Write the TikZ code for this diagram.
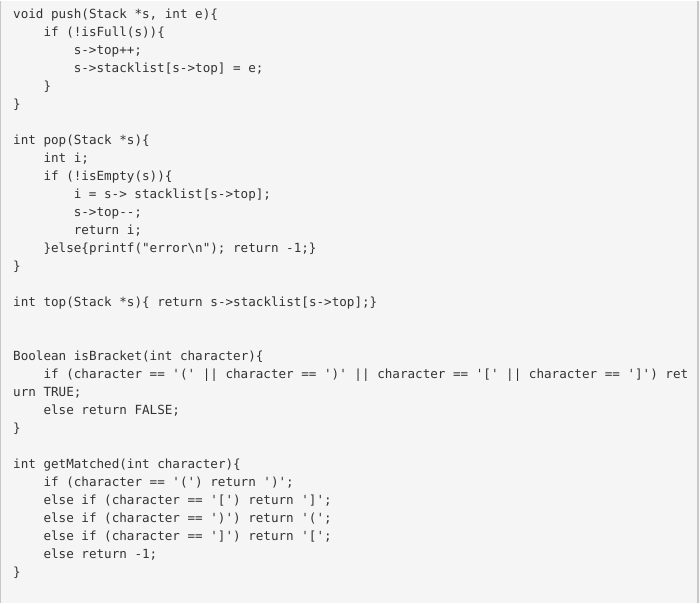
\documentclass[tikz,border=0pt]{standalone}
\usepackage{fontspec}
\setmonofont{DejaVu Sans Mono}
\definecolor{bg}{HTML}{F5F5F5}
\definecolor{fr}{HTML}{C8C8C8}
\definecolor{tx}{HTML}{333333}
\newcommand{\Q}{\textquotesingle}
\newcommand{\D}{\textquotedbl}
\begin{document}
\begin{tikzpicture}[x=1pt,y=1pt,
  code/.style={anchor=base west,inner sep=0pt,text=tx,font=\ttfamily\fontsize{12.6}{15}\selectfont}]
\fill[bg] (0,0) rectangle (700,602);
\draw[fr,line width=1.2pt] (0.6,0) -- (0.6,602);
\draw[fr,line width=1.2pt] (698,0) -- (698,602);
\useasboundingbox (0,0) rectangle (700,602);
\def\LX{13}\def\IW{30.3}
\newcommand{\cl}[4]{\node[code] (#1) at (\LX+#2*\IW, 602-17.5-#3*18) {#4};}
\cl{a0}{0}{0}{void push(Stack *s, int e)\{}
\cl{a1}{1}{1}{if (!isFull(s))\{}
\cl{a2}{2}{2}{s->top++;}
\cl{a3}{2}{3}{s->stacklist[s->top] = e;}
\cl{a4}{1}{4}{\}}
\cl{a5}{0}{5}{\}}
\cl{b0}{0}{7}{int pop(Stack *s)\{}
\cl{b1}{1}{8}{int i;}
\cl{b2}{1}{9}{if (!isEmpty(s))\{}
\cl{b3}{2}{10}{i = s-> stacklist[s->top];}
\cl{b4}{2}{11}{s->top-{}-;}
\cl{b5}{2}{12}{return i;}
\cl{b6}{1}{13}{\}else\{printf(\D error\textbackslash n\D); return -1;\}}
\cl{b7}{0}{14}{\}}
\cl{c0}{0}{16}{int top(Stack *s)\{ return s->stacklist[s->top];\}}
\cl{d0}{0}{19}{Boolean isBracket(int character)\{}
\cl{d1}{1}{20}{if (character == \Q(\Q{} || character == \Q)\Q{} || character == \Q[\Q{} || character == \Q]\Q) ret}
\cl{d2}{0}{21}{urn TRUE;}
\cl{d3}{1}{22}{else return FALSE;}
\cl{d4}{0}{23}{\}}
\cl{e0}{0}{25}{int getMatched(int character)\{}
\cl{e1}{1}{26}{if (character == \Q(\Q) return \Q)\Q;}
\cl{e2}{1}{27}{else if (character == \Q[\Q) return \Q]\Q;}
\cl{e3}{1}{28}{else if (character == \Q)\Q) return \Q(\Q;}
\cl{e4}{1}{29}{else if (character == \Q]\Q) return \Q[\Q;}
\cl{e5}{1}{30}{else return -1;}
\cl{e6}{0}{31}{\}}
\end{tikzpicture}
\end{document}
